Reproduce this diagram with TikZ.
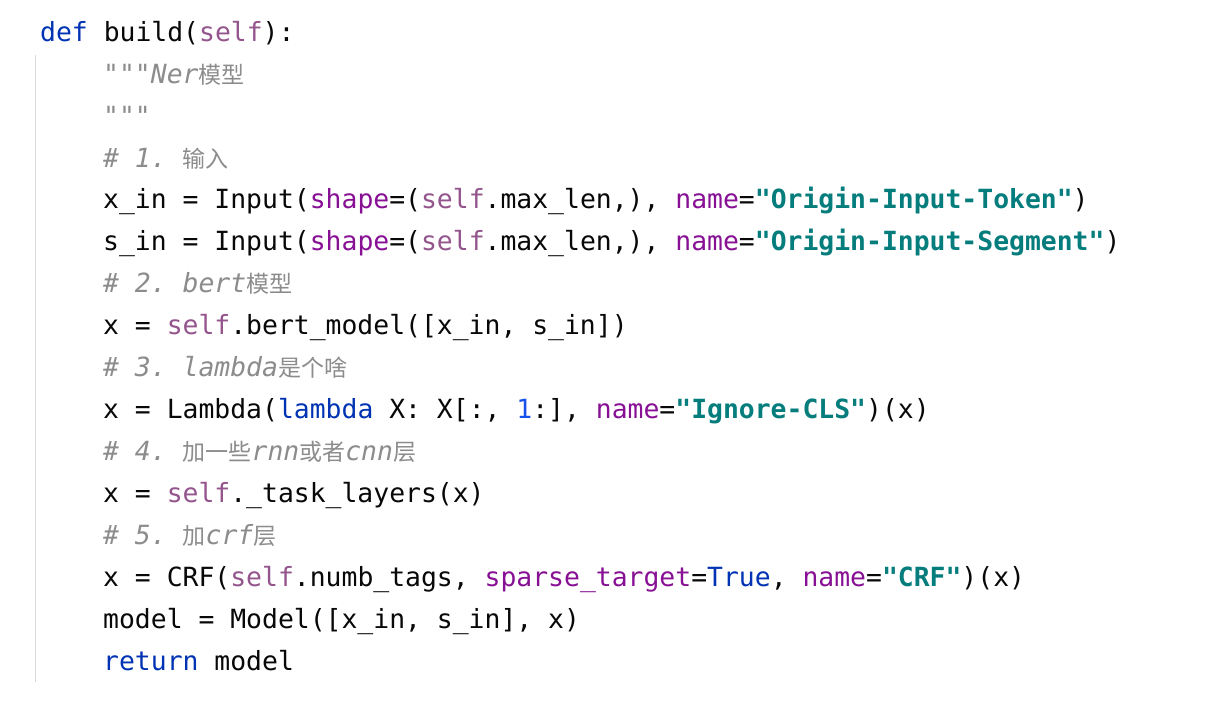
\documentclass[tikz,border=0pt]{standalone}
\usepackage{fontspec}
\setmonofont{DejaVu Sans Mono}
\newfontfamily\cjk{Noto Sans CJK SC}
\definecolor{kw}{HTML}{0033B3}
\definecolor{slf}{HTML}{94558D}
\definecolor{arg}{HTML}{871094}
\definecolor{str}{HTML}{067D7D}
\definecolor{cmt}{HTML}{8C8C8C}
\definecolor{num}{HTML}{1750EB}
\definecolor{txt}{HTML}{080808}
\newcommand{\K}[1]{\textcolor{kw}{#1}}
\newcommand{\Sf}[1]{\textcolor{slf}{#1}}
\newcommand{\A}[1]{\textcolor{arg}{#1}}
\newcommand{\St}[1]{\textcolor{str}{\bfseries #1}}
\newcommand{\C}[1]{\textcolor{cmt}{\itshape #1}}
\newcommand{\Z}[1]{{\cjk\fontsize{23}{28}\selectfont\upshape\mdseries #1}}
\begin{document}
\begin{tikzpicture}[x=1pt,y=1pt,
  code/.style={anchor=base west,inner sep=0,text=txt,font=\ttfamily\fontsize{26.4}{30}\selectfont}]
\useasboundingbox (0,0) rectangle (1220,-712);
\fill[white] (0,0) rectangle (1220,-712);
\draw[gray!30,line width=1pt] (35,-55) -- (35,-682);
\node[code] (l1) at (40,-41) {\K{def} build(\Sf{self}):};
\node[code] (l2) at (103,-83) {\C{"""Ner\Z{模型}}};
\node[code] (l3) at (103,-125) {\C{"""}};
\node[code] (l4) at (103,-167) {\C{\# 1. \Z{输入}}};
\node[code] (l5) at (103,-208) {x\_in = Input(\A{shape}=(\Sf{self}.max\_len,), \A{name}=\St{"Origin-Input-Token"})};
\node[code] (l6) at (103,-250) {s\_in = Input(\A{shape}=(\Sf{self}.max\_len,), \A{name}=\St{"Origin-Input-Segment"})};
\node[code] (l7) at (103,-292) {\C{\# 2. bert\Z{模型}}};
\node[code] (l8) at (103,-334) {x = \Sf{self}.bert\_model([x\_in, s\_in])};
\node[code] (l9) at (103,-376) {\C{\# 3. lambda\Z{是个啥}}};
\node[code] (l10) at (103,-418) {x = Lambda(\K{lambda} X: X[:, \textcolor{num}{1}:], \A{name}=\St{"Ignore-CLS"})(x)};
\node[code] (l11) at (103,-460) {\C{\# 4. \Z{加一些}rnn\Z{或者}cnn\Z{层}}};
\node[code] (l12) at (103,-502) {x = \Sf{self}.\_task\_layers(x)};
\node[code] (l13) at (103,-544) {\C{\# 5. \Z{加}crf\Z{层}}};
\node[code] (l14) at (103,-586) {x = CRF(\Sf{self}.numb\_tags, \A{sparse\_target}=\K{True}, \A{name}=\St{"CRF"})(x)};
\node[code] (l15) at (103,-628) {model = Model([x\_in, s\_in], x)};
\node[code] (l16) at (103,-670) {\K{return} model};
\end{tikzpicture}
\end{document}
